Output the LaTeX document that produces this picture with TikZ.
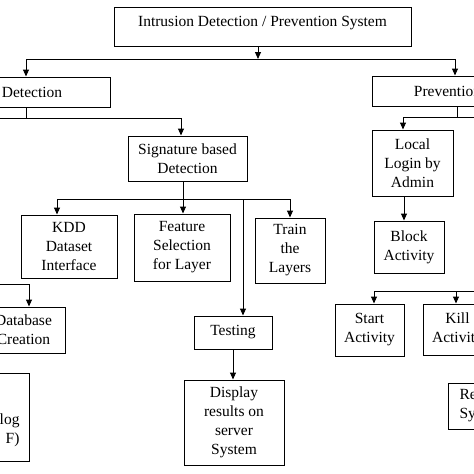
\documentclass[tikz,border=0pt]{standalone}
\usepackage{fontspec}
\setmainfont{Liberation Serif}
\usetikzlibrary{arrows.meta}

\begin{document}
\begin{tikzpicture}[x=1pt,y=-1pt,->,>={Triangle[length=7pt,width=6pt]},line width=1pt,
  box node/.style={rectangle,draw,fill=white,align=center,inner sep=0pt,font=\fontsize{15.5}{19}\selectfont},
  cut node/.style={box node,inner xsep=11pt,anchor=west,text width=50pt,align=left}]

  \useasboundingbox (0,0) rectangle (474,474);

  % boxes
  \node[box node,minimum width=297pt,minimum height=39pt,text height=11pt,text depth=12pt] (ids) at (262.5,26.5) {Intrusion Detection / Prevention System};
  \node[box node,minimum width=156pt,minimum height=30pt] (det) at (32,92) {Detection};
  \node[box node,minimum width=151pt,minimum height=30pt] (prev) at (447.5,91) {Prevention};
  \node[box node,minimum width=119pt,minimum height=45pt] (sig) at (187.5,158.5) {Signature based\\Detection};
  \node[box node,minimum width=96pt,minimum height=63pt] (kdd) at (69,246.5) {KDD\\Dataset\\Interface};
  \node[box node,minimum width=96pt,minimum height=67pt] (feat) at (182,247.5) {Feature\\Selection\\for Layer};
  \node[box node,minimum width=70pt,minimum height=65pt] (train) at (290,250.5) {Train\\the\\Layers};
  \node[box node,minimum width=83pt,minimum height=46pt] (db) at (23.5,330) {Database\\Creation};
  \node[box node,minimum width=99pt,minimum height=88pt,text width=80pt,align=right] (log) at (-20.5,417) {\mbox{}\\\mbox{}\\log\\F)};
  \node[box node,minimum width=78pt,minimum height=33pt] (test) at (233,332.5) {Testing};
  \node[box node,minimum width=100pt,minimum height=85pt] (disp) at (234,422.5) {Display\\results on\\server\\System};
  \node[box node,minimum width=81pt,minimum height=66pt] (local) at (412.5,163) {Local\\Login by\\Admin};
  \node[box node,minimum width=70pt,minimum height=52pt] (block) at (409,247) {Block\\Activity};
  \node[box node,minimum width=69pt,minimum height=52pt] (start) at (369.5,330) {Start\\Activity};
  \node[box node,minimum width=69pt,minimum height=51pt] (kill) at (457.5,329.5) {Kill\\Activity};
  \node[cut node,minimum height=46pt] (re) at (448,406) {Re\\Sy};

  % junctions
  \coordinate (top bus) at (258,59);
  \coordinate (bus l) at (26,59);
  \coordinate (bus r) at (455,59);
  \coordinate (det bus) at (26,118);
  \coordinate (det bus l) at (-5,118);
  \coordinate (sig in) at (181,118);
  \coordinate (sig bus l) at (57,199);
  \coordinate (sig bus r) at (290,199);
  \coordinate (feat in) at (183,199);
  \coordinate (test in) at (243,199);
  \coordinate (db bus l) at (-5,284);
  \coordinate (db in) at (29,284);
  \coordinate (prev bus) at (457,117);
  \coordinate (prev bus r) at (480,117);
  \coordinate (local in) at (403,117);
  \coordinate (block in) at (404,210);
  \coordinate (act bus l) at (374,291);
  \coordinate (act bus r) at (480,291);
  \coordinate (kill in) at (456,291);

  % connectors
  \draw (ids.south -| top bus) -- (top bus);
  \draw[-] (bus l) -- (bus r);
  \draw (bus l) -- (bus l |- det.north);
  \draw (bus r) -- (bus r |- prev.north);

  \draw[-] (det.south -| det bus) -- (det bus);
  \draw (det bus l) -- (sig in) -- (sig in |- sig.north);

  \draw[-] (sig bus l) -- (sig bus r);
  \draw (sig.south -| feat in) -- (feat.north -| feat in);
  \draw (sig bus l) -- (sig bus l |- kdd.north);
  \draw (sig bus r) -- (sig bus r |- train.north);
  \draw (test in) -- (test in |- test.north);
  \draw (test.south) -- (test.south |- disp.north);

  \draw (db bus l) -- (db in) -- (db in |- db.north);

  \draw[-] (prev.south -| prev bus) -- (prev bus);
  \draw (prev bus r) -- (local in) -- (local in |- local.north);
  \draw (local.south -| block in) -- (block.north -| block in);

  \draw (act bus r) -- (act bus l) -- (act bus l |- start.north);
  \draw (kill in) -- (kill in |- kill.north);

\end{tikzpicture}
\end{document}
